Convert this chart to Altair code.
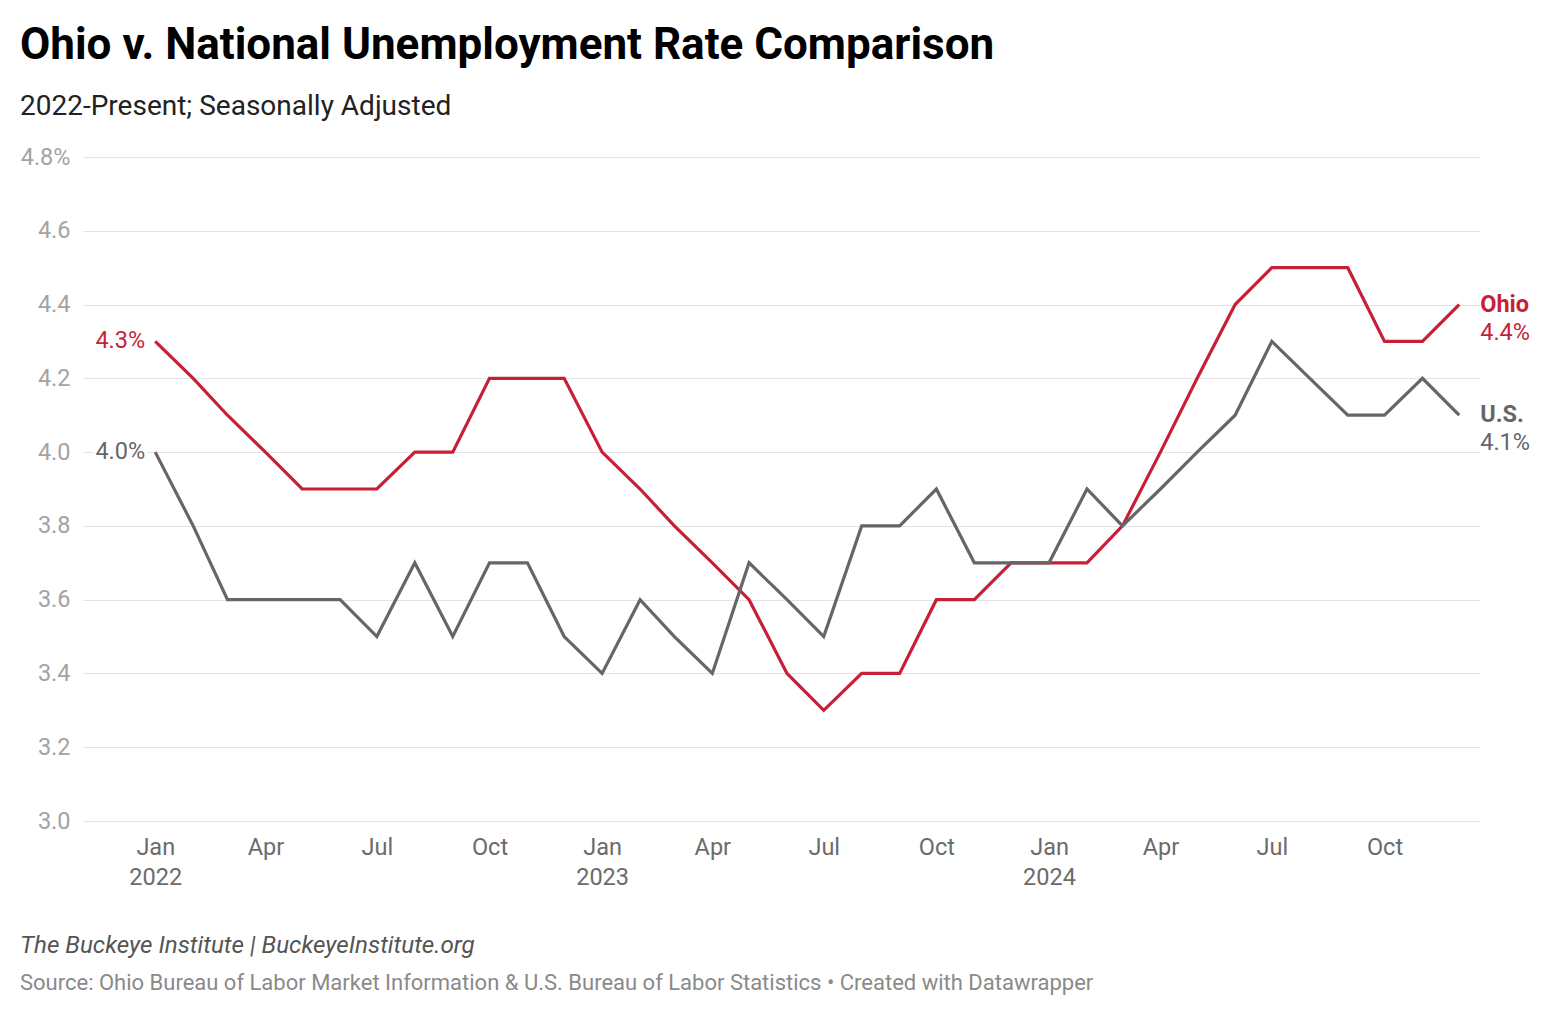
import altair as alt
import pandas as pd

# ---- data ----
MONTHS = [
    "2022-01-01", "2022-02-01", "2022-03-01", "2022-04-01", "2022-05-01", "2022-06-01",
    "2022-07-01", "2022-08-01", "2022-09-01", "2022-10-01", "2022-11-01", "2022-12-01",
    "2023-01-01", "2023-02-01", "2023-03-01", "2023-04-01", "2023-05-01", "2023-06-01",
    "2023-07-01", "2023-08-01", "2023-09-01", "2023-10-01", "2023-11-01", "2023-12-01",
    "2024-01-01", "2024-02-01", "2024-03-01", "2024-04-01", "2024-05-01", "2024-06-01",
    "2024-07-01", "2024-08-01", "2024-09-01", "2024-10-01", "2024-11-01", "2024-12-01",
]
OHIO = [4.3, 4.2, 4.1, 4.0, 3.9, 3.9, 3.9, 4.0, 4.0, 4.2, 4.2, 4.2,
        4.0, 3.9, 3.8, 3.7, 3.6, 3.4, 3.3, 3.4, 3.4, 3.6, 3.6, 3.7,
        3.7, 3.7, 3.8, 4.0, 4.2, 4.4, 4.5, 4.5, 4.5, 4.3, 4.3, 4.4]
US = [4.0, 3.8, 3.6, 3.6, 3.6, 3.6, 3.5, 3.7, 3.5, 3.7, 3.7, 3.5,
      3.4, 3.6, 3.5, 3.4, 3.7, 3.6, 3.5, 3.8, 3.8, 3.9, 3.7, 3.7,
      3.7, 3.9, 3.8, 3.9, 4.0, 4.1, 4.3, 4.2, 4.1, 4.1, 4.2, 4.1]
SERIES = ["Ohio", "U.S."]
COLORS = {"Ohio": "#c71f37", "U.S.": "#666666"}
Y_TICKS = [3.0, 3.2, 3.4, 3.6, 3.8, 4.0, 4.2, 4.4, 4.6, 4.8]
X_TICK_MONTHS = [(y, m) for y in (2022, 2023, 2024) for m in (1, 4, 7, 10)]

TITLE = "Ohio v. National Unemployment Rate Comparison"
SUBTITLE = "2022-Present; Seasonally Adjusted"
FOOTER_1 = "The Buckeye Institute | BuckeyeInstitute.org"
FOOTER_2 = ("Source: Ohio Bureau of Labor Market Information & U.S. Bureau of Labor "
            "Statistics \u2022 Created with Datawrapper")

FONT = "Roboto"
W, H = 1397, 664
LBL = 23.5

rows = []
for name, vals in zip(SERIES, [OHIO, US]):
    for d, v in zip(MONTHS, vals):
        rows.append({"date": d, "value": v, "series": name})
df = pd.DataFrame(rows)

first = pd.DataFrame([
    {"date": MONTHS[0], "value": OHIO[0], "series": "Ohio", "txt": f"{OHIO[0]:.1f}%"},
    {"date": MONTHS[0], "value": US[0], "series": "U.S.", "txt": f"{US[0]:.1f}%"},
])
last = pd.DataFrame([
    {"date": MONTHS[-1], "value": OHIO[-1], "series": "Ohio", "txt": f"{OHIO[-1]:.1f}%"},
    {"date": MONTHS[-1], "value": US[-1], "series": "U.S.", "txt": f"{US[-1]:.1f}%"},
])

x_scale = alt.Scale(
    type="utc",
    domain=[alt.DateTime(year=2021, month=11, date=3, utc=True),
            alt.DateTime(year=2024, month=12, date=18, utc=True)],
)
y_scale = alt.Scale(domain=[3.0, 4.8], nice=False, zero=False)
color_scale = alt.Scale(domain=SERIES, range=[COLORS[s] for s in SERIES])

x_axis = alt.Axis(
    values=[alt.DateTime(year=y, month=m, date=1, utc=True) for y, m in X_TICK_MONTHS],
    labelExpr="utcmonth(datum.value) == 0 ? [utcFormat(datum.value, '%b'), utcFormat(datum.value, '%Y')] : utcFormat(datum.value, '%b')",
    grid=False, domain=False, ticks=False,
    labelFont=FONT, labelFontSize=LBL, labelColor="#6b6b6b",
    labelPadding=14, labelLineHeight=30, labelAlign="center",
    title=None,
)
y_axis = alt.Axis(
    values=Y_TICKS,
    labelExpr="datum.value >= 4.79 ? format(datum.value, '.1f') + '%' : format(datum.value, '.1f')",
    grid=True, gridColor="#e3e3e3", gridWidth=1,
    domain=False, ticks=False,
    labelFont=FONT, labelFontSize=LBL, labelColor="#a3a3a3",
    labelPadding=13, labelBaseline="middle",
    title=None,
)

base = alt.Chart(df)

X = alt.X("date:T", scale=x_scale, axis=x_axis)
Y = alt.Y("value:Q", scale=y_scale, axis=y_axis)

lines = []
for s in SERIES:
    lines.append(
        base.transform_filter(alt.datum.series == s)
        .mark_line(strokeWidth=3.2, strokeJoin="miter", color=COLORS[s])
        .encode(x=X, y=Y)
    )

Xn = alt.X("date:T", scale=x_scale)
Yn = alt.Y("value:Q", scale=y_scale)

start_halo = alt.Chart(first).mark_text(
    align="right", baseline="middle", dx=-10, font=FONT, fontSize=LBL,
    stroke="white", strokeWidth=6, fill="white",
).encode(x=Xn, y=Yn, text="txt:N")
start_lbl = alt.Chart(first).mark_text(
    align="right", baseline="middle", dx=-10, font=FONT, fontSize=LBL,
).encode(x=Xn, y=Yn, text="txt:N",
         color=alt.Color("series:N", scale=color_scale, legend=None))

end_name = alt.Chart(last).mark_text(
    align="left", baseline="middle", dx=21, font=FONT, fontSize=LBL, fontWeight="bold",
).encode(x=Xn, y=Yn, text="series:N",
         color=alt.Color("series:N", scale=color_scale, legend=None))
end_val = alt.Chart(last).mark_text(
    align="left", baseline="middle", dx=21, dy=28, font=FONT, fontSize=LBL,
).encode(x=Xn, y=Yn, text="txt:N",
         color=alt.Color("series:N", scale=color_scale, legend=None))

foot1 = alt.Chart(pd.DataFrame({"t": [FOOTER_1]})).mark_text(
    align="left", baseline="middle", font=FONT, fontSize=24.2, fontStyle="italic",
    color="#555555",
).encode(text="t:N", x=alt.value(-63), y=alt.value(H + 125))
foot2 = alt.Chart(pd.DataFrame({"t": [FOOTER_2]})).mark_text(
    align="left", baseline="middle", font=FONT, fontSize=22, color="#8a8a8a",
).encode(text="t:N", x=alt.value(-63), y=alt.value(H + 162))

chart = alt.layer(
    *lines, start_halo, start_lbl, end_name, end_val, foot1, foot2
).properties(
    width=W, height=H,
    autosize=alt.AutoSizeParams(type="none"),
    padding={"left": 83, "top": 157, "right": 70, "bottom": 195},
    title=alt.TitleParams(
        text=TITLE, subtitle=SUBTITLE, anchor="start", offset=24,
        font=FONT, fontSize=44, fontWeight="bold", color="#000000",
        subtitleFont=FONT, subtitleFontSize=28, subtitleColor="#222222",
        subtitlePadding=25,
    ),
).configure(background="white").configure_view(stroke=None)

chart.save("out.html", embed_options={"renderer": "svg", "actions": False})
